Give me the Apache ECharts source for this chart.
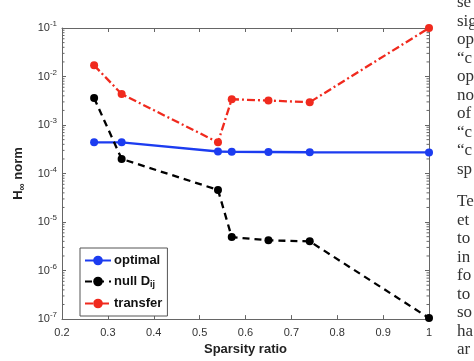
<!DOCTYPE html>
<html>
<head>
<meta charset="utf-8">
<script src="https://cdn.jsdelivr.net/npm/echarts@6/dist/echarts.min.js"></script>
<style>
html,body{margin:0;padding:0;background:#fff;}
#chart{width:474px;height:361px;}
</style>
</head>
<body>
<div id="chart"></div>
<script>
// ---- data ----
var sparsity = [0.27, 0.33, 0.54, 0.57, 0.65, 0.74, 1.0];
var optimalVals = [4.4e-4, 4.4e-4, 2.85e-4, 2.8e-4, 2.78e-4, 2.75e-4, 2.73e-4];
var nullDijVals = [3.6e-3, 2.0e-4, 4.6e-5, 4.9e-6, 4.2e-6, 4.0e-6, 1.05e-7];
var transferVals = [1.7e-2, 4.35e-3, 4.4e-4, 3.4e-3, 3.2e-3, 2.95e-3, 1.0e-1];
var xTicks = [0.2, 0.3, 0.4, 0.5, 0.6, 0.7, 0.8, 0.9, 1];
var yMin = 1e-7, yMax = 1e-1;
var seriesNames = ['optimal', 'null Dij', 'transfer'];
// fragment of neighbouring paper text visible at the right edge
var sideTextTop = ['se', 'sig', 'op', '\u201Cc', 'op', 'no', 'of', '\u201Cc', '\u201Cc', 'sp'];
var sideTextBottom = ['Te', 'et', 'to', 'in', 'fo', 'to', 'so', 'ha', 'ar'];

function pairs(xs, ys) { return xs.map(function (x, i) { return [x, ys[i]]; }); }

// minor tick values of the log axis (2..9 x 10^k)
var minorVals = [];
for (var k = -7; k < -1; k++) {
  for (var m = 2; m <= 9; m++) minorVals.push([0.2, m * Math.pow(10, k)]);
}

var chart = echarts.init(document.getElementById('chart'), null, {renderer: 'canvas'});
var axisColor = '#666';
var labelFont = 'Liberation Sans';

var graphics = [];
sideTextTop.forEach(function (t, i) {
  graphics.push({type: 'text', x: 457, y: 3 + i * 18.5, silent: true,
    style: {text: t, fontFamily: 'Liberation Serif', fontSize: 17, fill: '#333', verticalAlign: 'middle'}});
});
sideTextBottom.forEach(function (t, i) {
  graphics.push({type: 'text', x: 457, y: 202 + i * 18.5, silent: true,
    style: {text: t, fontFamily: 'Liberation Serif', fontSize: 17, fill: '#333', verticalAlign: 'middle'}});
});

var option = {
  animation: false,
  backgroundColor: '#fff',
  grid: {left: 62, right: 45, top: 28, bottom: 39, containLabel: false},
  graphic: graphics,
  legend: {
    orient: 'vertical',
    left: 80, top: 248,
    data: seriesNames,
    itemWidth: 26, itemHeight: 12, itemGap: 8,
    padding: [6, 5, 6, 4],
    borderColor: '#555', borderWidth: 1, backgroundColor: '#fff',
    textStyle: {fontFamily: labelFont, fontWeight: 'bold', fontSize: 13, color: '#111', padding: [0, 0, 0, -2],
      rich: {sub: {fontFamily: labelFont, fontWeight: 'bold', fontSize: 9, verticalAlign: 'bottom', color: '#111', padding: [6, 0, 0, 0]}}},
    formatter: function (n) { return n === 'null Dij' ? 'null D{sub|ij}' : n; }
  },
  xAxis: [{
    type: 'value', min: 0.2, max: 1, interval: 0.1,
    axisLine: {show: true, onZero: false, lineStyle: {color: axisColor, width: 1}},
    axisTick: {show: true, inside: true, length: 4, lineStyle: {color: axisColor}},
    splitLine: {show: false},
    axisLabel: {fontFamily: labelFont, fontSize: 11, color: '#333', margin: 8,
      formatter: function (v) { return String(Math.round(v * 10) / 10); }},
    name: 'Sparsity ratio', nameLocation: 'middle', nameGap: 23,
    nameTextStyle: {fontFamily: labelFont, fontWeight: 'bold', fontSize: 13, color: '#222'}
  }, {
    type: 'value', min: 0.2, max: 1, interval: 0.1, position: 'top',
    axisLine: {show: true, onZero: false, lineStyle: {color: axisColor, width: 1}},
    axisTick: {show: true, inside: true, length: 4, lineStyle: {color: axisColor}},
    splitLine: {show: false}, axisLabel: {show: false}
  }],
  yAxis: [{
    type: 'log', logBase: 10, min: yMin, max: yMax,
    axisLine: {show: true, onZero: false, lineStyle: {color: axisColor, width: 1}},
    axisTick: {show: true, inside: true, length: 4, lineStyle: {color: axisColor}},
    splitLine: {show: false},
    axisLabel: {fontFamily: labelFont, fontSize: 11, color: '#333', margin: 5, lineHeight: 16,
      formatter: function (v) { return '10{sup|' + Math.round(Math.log10(v)) + '}'; },
      rich: {sup: {fontFamily: labelFont, fontSize: 8, color: '#333', verticalAlign: 'top', lineHeight: 9}}},
    name: '{b|H}{sub|\u221E}{b| norm}', nameLocation: 'middle', nameGap: 30, nameRotate: 90,
    nameTextStyle: {rich: {
      b: {fontFamily: labelFont, fontWeight: 'bold', fontSize: 13, color: '#222'},
      sub: {fontFamily: labelFont, fontWeight: 'bold', fontSize: 10, color: '#222', verticalAlign: 'bottom', padding: [7, 0, 0, 0]}
    }}
  }, {
    type: 'log', logBase: 10, min: yMin, max: yMax, position: 'right',
    axisLine: {show: true, onZero: false, lineStyle: {color: axisColor, width: 1}},
    axisTick: {show: true, inside: true, length: 4, lineStyle: {color: axisColor}},
    splitLine: {show: false}, axisLabel: {show: false}
  }],
  series: [{
    type: 'custom', silent: true, xAxisIndex: 0, yAxisIndex: 0, z: 1,
    data: minorVals,
    renderItem: function (params, api) {
      var l = api.coord([0.2, api.value(1)]);
      var r = api.coord([1.0, api.value(1)]);
      var st = {stroke: axisColor, lineWidth: 1};
      return {type: 'group', children: [
        {type: 'line', shape: {x1: l[0], y1: l[1], x2: l[0] + 2.5, y2: l[1]}, style: st},
        {type: 'line', shape: {x1: r[0], y1: r[1], x2: r[0] - 2.5, y2: r[1]}, style: st}
      ]};
    }
  }, {
    name: 'optimal', type: 'line', data: pairs(sparsity, optimalVals),
    symbol: 'circle', symbolSize: 8, z: 3,
    itemStyle: {color: '#1c3cf0'}, lineStyle: {color: '#1c3cf0', width: 2.3, type: 'solid'}
  }, {
    name: 'null Dij', type: 'line', data: pairs(sparsity, nullDijVals),
    symbol: 'circle', symbolSize: 8, z: 3,
    itemStyle: {color: '#000'}, lineStyle: {color: '#000', width: 2.3, type: [7, 5]}
  }, {
    name: 'transfer', type: 'line', data: pairs(sparsity, transferVals),
    symbol: 'circle', symbolSize: 8, z: 3,
    itemStyle: {color: '#f02a1e'}, lineStyle: {color: '#f02a1e', width: 2.3, type: [8, 3, 2, 3]}
  }]
};
chart.setOption(option);
</script>
</body>
</html>
